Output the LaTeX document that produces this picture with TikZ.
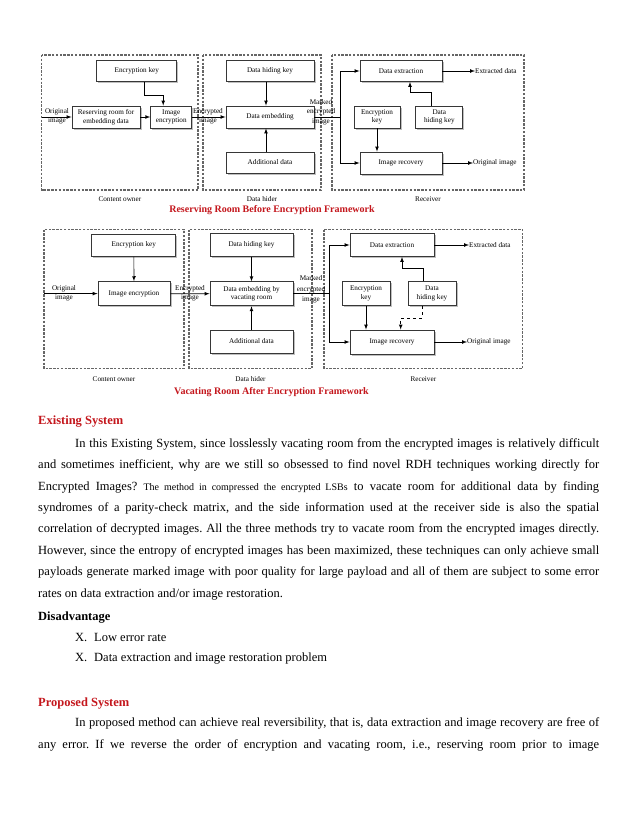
\documentclass[tikz,border=0pt]{standalone}
\usepackage{fontspec}
\setmainfont{Liberation Serif}
\usetikzlibrary{shadows}
\definecolor{titred}{RGB}{196,22,28}
\definecolor{boxgray}{RGB}{55,55,55}
\newcommand{\jline}[2]{\makebox[#1][s]{#2}}
\frenchspacing

\tikzset{
 blk/.style={draw=boxgray, line width=0.9pt, fill=white, align=center, inner sep=1pt,
   drop shadow={shadow xshift=1.6pt, shadow yshift=-1.6pt, opacity=0.5},
   font=\fontsize{7.2}{8.6}\selectfont},
 zone/.style={draw=black!60, line width=1.1pt, dash pattern=on 2.4pt off 1.4pt},
 lbl/.style={align=center, inner sep=0pt, font=\fontsize{7.2}{8.6}\selectfont},
 con/.style={line width=0.7pt, ->, >=latex},
 tit/.style={text=titred, font=\fontsize{10}{12}\selectfont\bfseries},
 body/.style={anchor=base west, inner sep=0pt, font=\fontsize{12.5}{14}\selectfont},
 head/.style={anchor=base west, inner sep=0pt, font=\fontsize{12.5}{14}\selectfont\bfseries}
}

\begin{document}
\begin{tikzpicture}[x=1pt,y=-1pt]
\useasboundingbox (0,0) rectangle (638,826);
\fill[white] (0,0) rectangle (638,826);

% reserving room before encryption
\foreach \n/\xa/\xb/\t in {zca/41.7/198/Content owner, zda/203/321/Data hider, zra/332/524/Receiver}
 {\draw[zone] (\xa,55) rectangle (\xb,190);
  \node[lbl] (\n) at ({(\xa+\xb)/2},199) {\t};}
\node[blk, minimum width=80pt, minimum height=21pt] (okey) at (136.8,71) {Encryption key};
\node[blk, minimum width=68pt, minimum height=22pt] (reserve) at (106,117) {Reserving room for\\embedding data};
\node[blk, minimum width=41pt, minimum height=22pt] (ienc) at (171.2,117) {Image\\encryption};
\node[blk, minimum width=88pt, minimum height=21pt] (hkey) at (270,71) {Data hiding key};
\node[blk, minimum width=88pt, minimum height=22pt] (embed) at (270,117) {Data embedding};
\node[blk, minimum width=88pt, minimum height=21pt] (adata) at (270,162.5) {Additional data};
\node[blk, minimum width=82pt, minimum height=21pt] (dext) at (401,71) {Data extraction};
\node[blk, minimum width=46pt, minimum height=22pt] (rkey) at (377,117) {Encryption\\key};
\node[blk, minimum width=47pt, minimum height=22pt] (rhkey) at (439.3,117) {Data\\hiding key};
\node[blk, minimum width=82pt, minimum height=22pt] (irec) at (401,163) {Image recovery};
\node[lbl] (orig) at (57,116.5) {Original\\image};
\node[lbl] (encr) at (208,116.5) {Encrypted\\image};
\node[lbl, font=\fontsize{7.2}{9.4}\selectfont] (mark) at (321,112) {Marked\\encrypted\\image};
\node[lbl, anchor=west] (xout) at (475,71) {Extracted data};
\node[lbl, anchor=west] (oout) at (473,163) {Original image};
\coordinate (oin) at (42,117);
\coordinate (mk) at (340,117);
\draw[con] (oin) -- (reserve);
\draw[con] (reserve) -- (ienc);
\draw[con] ([xshift=8pt]okey.south) -- ++(0,13) -| ([xshift=-8pt]ienc.north);
\draw[con] (ienc) -- (embed);
\draw[con] ([xshift=-4pt]hkey.south) -- ([xshift=-4pt]embed.north);
\draw[con] ([xshift=-4pt]adata.north) -- ([xshift=-4pt]embed.south);
\draw[line width=0.7pt] (embed) -- (mk);
\draw[con] (mk) |- (dext);
\draw[con] (mk) |- (irec);
\draw[con] (dext) -- (xout);
\draw[con] (irec) -- (oout);
\draw[con] ([xshift=-8pt]rhkey.north) -- ++(0,-13) -| ([xshift=9pt]dext.south);
\draw[con] (rkey) -- (rkey |- irec.north);
\node[tit] (tita) at (272,210) {Reserving Room Before Encryption Framework};

% vacating room after encryption
\foreach \n/\xa/\xb/\t in {zcb/44/184/Content owner, zdb/189/312/Data hider, zrb/324/522.7/Receiver}
 {\draw[zone] (\xa,229.5) rectangle (\xb,368.5);
  \node[lbl] (\n) at ({(\xa+\xb)/2},379) {\t};}
\node[blk, minimum width=84pt, minimum height=22.5pt] (okey2) at (133.8,245.2) {Encryption key};
\node[blk, minimum width=72pt, minimum height=24pt] (ienc2) at (134,293.6) {Image encryption};
\node[blk, minimum width=83pt, minimum height=23pt] (hkey2) at (251.5,245) {Data hiding key};
\node[blk, minimum width=83pt, minimum height=24pt] (embed2) at (251.5,293.8) {Data embedding by\\vacating room};
\node[blk, minimum width=83pt, minimum height=23pt] (adata2) at (251.5,341.5) {Additional data};
\node[blk, minimum width=84pt, minimum height=23pt] (dext2) at (392,245) {Data extraction};
\node[blk, minimum width=48pt, minimum height=24pt] (rkey2) at (366,293.6) {Encryption\\key};
\node[blk, minimum width=48pt, minimum height=24pt] (rhkey2) at (432,293.6) {Data\\hiding key};
\node[blk, minimum width=84pt, minimum height=24pt] (irec2) at (392,342) {Image recovery};
\node[lbl] (orig2) at (64,293.5) {Original\\image};
\node[lbl] (encr2) at (190,293.5) {Encrypted\\image};
\node[lbl, font=\fontsize{7.2}{10.4}\selectfont] (mark2) at (311,289.5) {Marked\\encrypted\\image};
\node[lbl, anchor=west] (xout2) at (469,245) {Extracted data};
\node[lbl, anchor=west] (oout2) at (467,342) {Original image};
\coordinate (oin2) at (44,293.6);
\coordinate (mk2) at (329,293.8);
\draw[con] (oin2) -- (ienc2);
\draw[con] (okey2) -- (ienc2);
\draw[con] (ienc2) -- (embed2);
\draw[con] (hkey2) -- (embed2);
\draw[con] (adata2) -- (embed2);
\draw[line width=0.7pt] (embed2) -- (mk2);
\draw[con] (mk2) |- (dext2);
\draw[con] (mk2) |- (irec2);
\draw[con] (dext2) -- (xout2);
\draw[con] (irec2) -- (oout2);
\draw[con] ([xshift=-9pt]rhkey2.north) -- ++(0,-12.4) -| ([xshift=10pt]dext2.south);
\draw[con] (rkey2) -- (rkey2 |- irec2.north);
\draw[con, dashed] ([xshift=-10pt]rhkey2.south) -- ++(0,11.8) -| ([xshift=8.7pt]irec2.north);
\node[tit] (titb) at (271.5,392) {Vacating Room After Encryption Framework};

% text
\node[head, text=titred] (hexist) at (38,424.3) {Existing System};
\node[body] (e1) at (75,447.7) {\jline{524pt}{In this Existing System, since losslessly vacating room from the encrypted images is relatively difficult}};
\node[body] (e2) at (38,468.3) {\jline{561pt}{and sometimes inefficient, why are we still so obsessed to find novel RDH techniques working directly for}};
\node[body] (e3) at (38,490) {\jline{561pt}{Encrypted Images? {\fontsize{10}{11}\selectfont The method in compressed the encrypted LSBs} to vacate room for additional data by finding}};
\node[body] (e4) at (38,511) {\jline{561pt}{syndromes of a parity-check matrix, and the side information used at the receiver side is also the spatial}};
\node[body] (e5) at (38,532.7) {\jline{561pt}{correlation of decrypted images. All the three methods try to vacate room from the encrypted images directly.}};
\node[body] (e6) at (38,554) {\jline{561pt}{However, since the entropy of encrypted images has been maximized, these techniques can only achieve small}};
\node[body] (e7) at (38,575.7) {\jline{561pt}{payloads generate marked image with poor quality for large payload and all of them are subject to some error}};
\node[body] (e8) at (38,597.7) {rates on data extraction and/or image restoration.};
\node[head] (hdis) at (38,620) {Disadvantage};
\node[body] (d1) at (75,641) {\makebox[19pt][l]{X.}Low error rate};
\node[body] (d2) at (75,661.7) {\makebox[19pt][l]{X.}Data extraction and image restoration problem};
\node[head, text=titred] (hprop) at (38,706) {Proposed System};
\node[body] (p1) at (75,726.7) {\jline{524pt}{In proposed method can achieve real reversibility, that is, data extraction and image recovery are free of}};
\node[body] (p2) at (38,748.3) {\jline{561pt}{any error. If we reverse the order of encryption and vacating room, i.e., reserving room prior to image}};
\end{tikzpicture}
\end{document}
